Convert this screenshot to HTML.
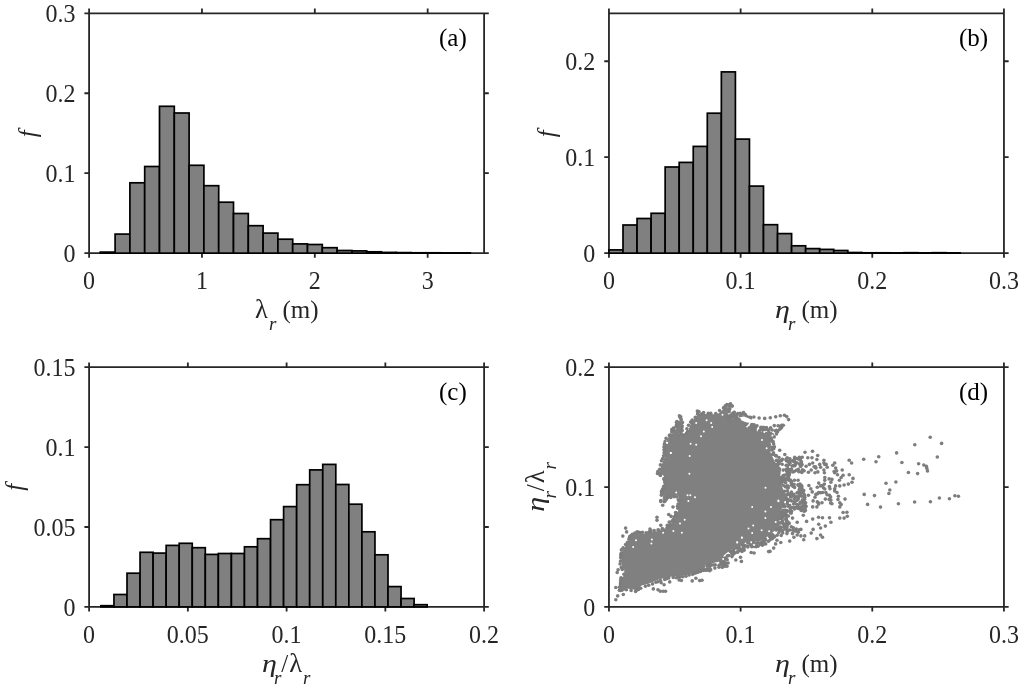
<!DOCTYPE html>
<html><head><meta charset="utf-8"><title>Figure</title>
<style>html,body{margin:0;padding:0;background:#fff;width:1024px;height:688px;overflow:hidden}#fig{width:1024px;height:688px}svg{display:block}</style>
</head><body>
<div id="fig">
<svg width="1024" height="688" viewBox="0 0 1024 688">
<rect x="0" y="0" width="1024" height="688" fill="#fff"/>
<path d="M89.1 13.3H484.1V253.15H89.1ZM89.1 253.15v3.8M89.1 13.3v-3.8M201.96 253.15v3.8M201.96 13.3v-3.8M314.81 253.15v3.8M314.81 13.3v-3.8M427.67 253.15v3.8M427.67 13.3v-3.8M89.1 253.15h-3.8M484.1 253.15h3.8M89.1 173.2h-3.8M484.1 173.2h3.8M89.1 93.25h-3.8M484.1 93.25h3.8M89.1 13.3h-3.8M484.1 13.3h3.8" fill="none" stroke="#262626" stroke-width="1.8" stroke-linecap="square"/>
<path d="M608.95 13.3H1003.95V253.15H608.95ZM608.95 253.15v3.8M608.95 13.3v-3.8M740.62 253.15v3.8M740.62 13.3v-3.8M872.28 253.15v3.8M872.28 13.3v-3.8M1003.95 253.15v3.8M1003.95 13.3v-3.8M608.95 253.15h-3.8M1003.95 253.15h3.8M608.95 157.21h-3.8M1003.95 157.21h3.8M608.95 61.27h-3.8M1003.95 61.27h3.8" fill="none" stroke="#262626" stroke-width="1.8" stroke-linecap="square"/>
<path d="M89.1 367.2H484.1V606.9H89.1ZM89.1 606.9v3.8M89.1 367.2v-3.8M187.85 606.9v3.8M187.85 367.2v-3.8M286.6 606.9v3.8M286.6 367.2v-3.8M385.35 606.9v3.8M385.35 367.2v-3.8M484.1 606.9v3.8M484.1 367.2v-3.8M89.1 606.9h-3.8M484.1 606.9h3.8M89.1 527h-3.8M484.1 527h3.8M89.1 447.1h-3.8M484.1 447.1h3.8M89.1 367.2h-3.8M484.1 367.2h3.8" fill="none" stroke="#262626" stroke-width="1.8" stroke-linecap="square"/>
<path d="M608.95 367.2H1003.95V606.9H608.95ZM608.95 606.9v3.8M608.95 367.2v-3.8M740.62 606.9v3.8M740.62 367.2v-3.8M872.28 606.9v3.8M872.28 367.2v-3.8M1003.95 606.9v3.8M1003.95 367.2v-3.8M608.95 606.9h-3.8M1003.95 606.9h3.8M608.95 487.05h-3.8M1003.95 487.05h3.8M608.95 367.2h-3.8M1003.95 367.2h3.8" fill="none" stroke="#262626" stroke-width="1.8" stroke-linecap="square"/>
<g fill="#808080" stroke="#000" stroke-width="1.7"><rect x="100.3" y="252.1" width="14.8" height="1.05"/><rect x="115.1" y="234.1" width="14.8" height="19.05"/><rect x="129.9" y="182.8" width="14.8" height="70.35"/><rect x="144.7" y="166.5" width="14.8" height="86.65"/><rect x="159.5" y="106.3" width="14.8" height="146.85"/><rect x="174.3" y="113" width="14.8" height="140.15"/><rect x="189.1" y="165.3" width="14.8" height="87.85"/><rect x="203.9" y="185.7" width="14.8" height="67.45"/><rect x="218.7" y="202.2" width="14.8" height="50.95"/><rect x="233.5" y="213.5" width="14.8" height="39.65"/><rect x="248.3" y="225.7" width="14.8" height="27.45"/><rect x="263.1" y="233.1" width="14.8" height="20.05"/><rect x="277.9" y="239.2" width="14.8" height="13.95"/><rect x="292.7" y="243.9" width="14.8" height="9.25"/><rect x="307.5" y="244.5" width="14.8" height="8.65"/><rect x="322.3" y="247.7" width="14.8" height="5.45"/><rect x="337.1" y="250.5" width="14.8" height="2.65"/><rect x="351.9" y="250.9" width="14.8" height="2.25"/><rect x="366.7" y="251.8" width="14.8" height="1.35"/><rect x="381.5" y="252.4" width="14.8" height="0.75"/><rect x="396.3" y="252.6" width="14.8" height="0.55"/><rect x="411.1" y="252.8" width="14.8" height="0.35"/><rect x="425.9" y="252.8" width="14.8" height="0.35"/><rect x="440.7" y="252.9" width="14.8" height="0.25"/><rect x="455.5" y="252.9" width="14.8" height="0.25"/></g>
<g fill="#808080" stroke="#000" stroke-width="1.7"><rect x="608.95" y="249.9" width="14.05" height="3.25"/><rect x="623" y="225" width="14.05" height="28.15"/><rect x="637.05" y="218.5" width="14.05" height="34.65"/><rect x="651.1" y="213.3" width="14.05" height="39.85"/><rect x="665.15" y="167" width="14.05" height="86.15"/><rect x="679.2" y="162.4" width="14.05" height="90.75"/><rect x="693.25" y="146.4" width="14.05" height="106.75"/><rect x="707.3" y="113.2" width="14.05" height="139.95"/><rect x="721.35" y="71.9" width="14.05" height="181.25"/><rect x="735.4" y="139.1" width="14.05" height="114.05"/><rect x="749.45" y="186.1" width="14.05" height="67.05"/><rect x="763.5" y="224.7" width="14.05" height="28.45"/><rect x="777.55" y="233.6" width="14.05" height="19.55"/><rect x="791.6" y="245.8" width="14.05" height="7.35"/><rect x="805.65" y="248.6" width="14.05" height="4.55"/><rect x="819.7" y="249.4" width="14.05" height="3.75"/><rect x="833.75" y="250.5" width="14.05" height="2.65"/><rect x="847.8" y="252.5" width="14.05" height="0.65"/><rect x="861.85" y="252.8" width="14.05" height="0.35"/><rect x="875.9" y="252.8" width="14.05" height="0.35"/><rect x="889.95" y="252.9" width="14.05" height="0.25"/><rect x="904" y="252.7" width="14.05" height="0.45"/><rect x="918.05" y="252.9" width="14.05" height="0.25"/><rect x="932.1" y="252.7" width="14.05" height="0.45"/><rect x="946.15" y="252.9" width="14.05" height="0.25"/></g>
<g fill="#808080" stroke="#000" stroke-width="1.7"><rect x="100.9" y="605.7" width="13.05" height="1.2"/><rect x="113.95" y="594.5" width="13.05" height="12.4"/><rect x="127" y="573.2" width="13.05" height="33.7"/><rect x="140.05" y="552.3" width="13.05" height="54.6"/><rect x="153.1" y="553.1" width="13.05" height="53.8"/><rect x="166.15" y="545.4" width="13.05" height="61.5"/><rect x="179.2" y="543.3" width="13.05" height="63.6"/><rect x="192.25" y="547.7" width="13.05" height="59.2"/><rect x="205.3" y="554.4" width="13.05" height="52.5"/><rect x="218.35" y="553.5" width="13.05" height="53.4"/><rect x="231.4" y="553.5" width="13.05" height="53.4"/><rect x="244.45" y="546.8" width="13.05" height="60.1"/><rect x="257.5" y="538.7" width="13.05" height="68.2"/><rect x="270.55" y="519.7" width="13.05" height="87.2"/><rect x="283.6" y="506.6" width="13.05" height="100.3"/><rect x="296.65" y="484.7" width="13.05" height="122.2"/><rect x="309.7" y="469.9" width="13.05" height="137"/><rect x="322.75" y="464.4" width="13.05" height="142.5"/><rect x="335.8" y="484.5" width="13.05" height="122.4"/><rect x="348.85" y="504.2" width="13.05" height="102.7"/><rect x="361.9" y="531.8" width="13.05" height="75.1"/><rect x="374.95" y="554.8" width="13.05" height="52.1"/><rect x="388" y="586.6" width="13.05" height="20.3"/><rect x="401.05" y="598.5" width="13.05" height="8.4"/><rect x="414.1" y="604.7" width="13.05" height="2.2"/></g>
<path d="M772.2 432L762 432L753.5 430.5L748.5 428.8L746 426.8L744.5 422.8L744.8 419.8L740.5 417.8L731.2 418.5L728 417.8L727.8 406.2L726 406.8L718.8 413.2L716.2 414.2L698.2 413.8L690.5 424.2L687.2 433.8L685.5 435.5L680.5 436.2L679.2 435L679.2 433L681 429.8L680.8 419.5L677.2 422.2L676.5 428.5L675.2 429.8L672.5 430L672.5 433.5L668.5 437L665.8 442L664.5 448L664.5 457L658.5 473.8L662.2 474.5L663.5 475.8L665.2 479.5L665.5 485.2L662 492L663.2 495.2L662.5 500L664.8 499.8L667.8 496.2L677.8 495.8L679 497L678.2 510.5L674.5 520.5L666 530L660.5 529.5L658.5 531L650.8 532L645.5 533.8L636.2 533L629.5 537.8L629.2 540.8L622.5 550.5L621 556.8L622 566.8L624.2 569.5L624.2 575.2L622 578L619.8 589.2L625.5 588.2L635.8 590L638.5 588.8L641.5 585.5L647 584.2L659.5 579.2L670.5 576.8L685.8 575.5L699.8 570.2L704.8 569.2L705 565.2L708.5 565.2L715.5 562.2L722.5 562.2L723.2 556.5L724.2 555L733.2 548L739.5 546.8L746.8 541.8L758.5 541.8L764.8 538.8L775 530.5L779.8 525.2L779.2 514L787.8 496L784.2 491.8L780.5 482.8L780 478.2L781.2 468.2L775 462L770.5 452.5L771 444.8L770.2 438.5Z" fill="#808080" fill-rule="evenodd"/>
<g fill="#7d7d7d"><circle cx="619.4" cy="590.3" r="1.8"/><circle cx="619.4" cy="587.2" r="1.8"/><circle cx="620.5" cy="582.9" r="1.8"/><circle cx="620.6" cy="580.5" r="1.8"/><circle cx="621" cy="577.9" r="1.8"/><circle cx="623.9" cy="574.2" r="1.8"/><circle cx="622.3" cy="569.4" r="1.8"/><circle cx="621.4" cy="567.4" r="1.8"/><circle cx="620.1" cy="563.9" r="1.8"/><circle cx="620.5" cy="561.1" r="1.8"/><circle cx="620.7" cy="557.6" r="1.8"/><circle cx="620.8" cy="554.9" r="1.8"/><circle cx="621.4" cy="553" r="1.8"/><circle cx="621.4" cy="549.7" r="1.8"/><circle cx="623.1" cy="547.7" r="1.8"/><circle cx="625.6" cy="544.6" r="1.8"/><circle cx="627.6" cy="542.2" r="1.8"/><circle cx="629" cy="539.3" r="1.8"/><circle cx="629.8" cy="536.4" r="1.8"/><circle cx="632.3" cy="534.4" r="1.8"/><circle cx="634.9" cy="533.1" r="1.8"/><circle cx="637.1" cy="531.9" r="1.8"/><circle cx="639" cy="532.3" r="1.8"/><circle cx="642.4" cy="532.3" r="1.8"/><circle cx="646.1" cy="532.8" r="1.8"/><circle cx="649.3" cy="531.9" r="1.8"/><circle cx="651" cy="530.7" r="1.8"/><circle cx="654.2" cy="530.6" r="1.8"/><circle cx="658.1" cy="529.8" r="1.8"/><circle cx="662.3" cy="528.6" r="1.8"/><circle cx="666.9" cy="528.1" r="1.8"/><circle cx="668.4" cy="526.2" r="1.8"/><circle cx="670.3" cy="524.3" r="1.8"/><circle cx="672" cy="521.2" r="1.8"/><circle cx="673.6" cy="519.2" r="1.8"/><circle cx="674.3" cy="517.1" r="1.8"/><circle cx="675.6" cy="512.5" r="1.8"/><circle cx="677.8" cy="508.2" r="1.8"/><circle cx="677.6" cy="506.2" r="1.8"/><circle cx="678.1" cy="504" r="1.8"/><circle cx="678.7" cy="500.6" r="1.8"/><circle cx="677.1" cy="497" r="1.8"/><circle cx="674.1" cy="496.6" r="1.8"/><circle cx="670.9" cy="497.5" r="1.8"/><circle cx="667.7" cy="497.8" r="1.8"/><circle cx="664.3" cy="501.6" r="1.8"/><circle cx="660.8" cy="501.4" r="1.8"/><circle cx="660.8" cy="500.6" r="1.8"/><circle cx="661.4" cy="495.2" r="1.8"/><circle cx="661.8" cy="491" r="1.8"/><circle cx="662.6" cy="489.1" r="1.8"/><circle cx="663.6" cy="486.6" r="1.8"/><circle cx="664.8" cy="482.3" r="1.8"/><circle cx="664.1" cy="478.7" r="1.8"/><circle cx="660.4" cy="475.4" r="1.8"/><circle cx="657.5" cy="473.5" r="1.8"/><circle cx="657.8" cy="471.6" r="1.8"/><circle cx="659.7" cy="469.3" r="1.8"/><circle cx="660.4" cy="464.9" r="1.8"/><circle cx="661.5" cy="460.7" r="1.8"/><circle cx="662.7" cy="458.6" r="1.8"/><circle cx="663.6" cy="455.7" r="1.8"/><circle cx="664.2" cy="453" r="1.8"/><circle cx="664.1" cy="449.9" r="1.8"/><circle cx="664.2" cy="447.2" r="1.8"/><circle cx="664.7" cy="444.6" r="1.8"/><circle cx="665.1" cy="441.5" r="1.8"/><circle cx="666.1" cy="438.4" r="1.8"/><circle cx="669.4" cy="435.4" r="1.8"/><circle cx="671.8" cy="431.9" r="1.8"/><circle cx="671.9" cy="429.6" r="1.8"/><circle cx="673.4" cy="428.1" r="1.8"/><circle cx="675.9" cy="427" r="1.8"/><circle cx="676.6" cy="424.5" r="1.8"/><circle cx="677" cy="421.6" r="1.8"/><circle cx="680.1" cy="417.4" r="1.8"/><circle cx="679.4" cy="415.8" r="1.8"/><circle cx="680.7" cy="416.7" r="1.8"/><circle cx="681.2" cy="419.4" r="1.8"/><circle cx="682.4" cy="422.4" r="1.8"/><circle cx="682.2" cy="426.1" r="1.8"/><circle cx="681.8" cy="428" r="1.8"/><circle cx="682.2" cy="430.6" r="1.8"/><circle cx="682.6" cy="434.8" r="1.8"/><circle cx="686.6" cy="433.2" r="1.8"/><circle cx="686.9" cy="428.7" r="1.8"/><circle cx="688.5" cy="425.3" r="1.8"/><circle cx="690.6" cy="422" r="1.8"/><circle cx="692.2" cy="420.1" r="1.8"/><circle cx="695.3" cy="417.4" r="1.8"/><circle cx="697.6" cy="413.9" r="1.8"/><circle cx="697.4" cy="411.1" r="1.8"/><circle cx="699" cy="411.8" r="1.8"/><circle cx="703.6" cy="412.6" r="1.8"/><circle cx="708.3" cy="413.2" r="1.8"/><circle cx="710.8" cy="413.4" r="1.8"/><circle cx="715.8" cy="413.6" r="1.8"/><circle cx="719.6" cy="410.6" r="1.8"/><circle cx="723.5" cy="407.9" r="1.8"/><circle cx="725.3" cy="405.7" r="1.8"/><circle cx="726.9" cy="404.5" r="1.8"/><circle cx="730.5" cy="403.7" r="1.8"/><circle cx="731.4" cy="405.7" r="1.8"/><circle cx="732.3" cy="406.1" r="1.8"/><circle cx="729.8" cy="408.7" r="1.8"/><circle cx="732.8" cy="413.3" r="1.8"/><circle cx="734.2" cy="412.6" r="1.8"/><circle cx="737.7" cy="413.6" r="1.8"/><circle cx="740.2" cy="413.2" r="1.8"/><circle cx="743.5" cy="412.6" r="1.8"/><circle cx="745.2" cy="414.6" r="1.8"/><circle cx="750.4" cy="417.2" r="1.8"/><circle cx="750.8" cy="417.9" r="1.8"/><circle cx="749.3" cy="420.9" r="1.8"/><circle cx="752" cy="424.5" r="1.8"/><circle cx="754.1" cy="424.9" r="1.8"/><circle cx="757" cy="425.8" r="1.8"/><circle cx="760.9" cy="427.2" r="1.8"/><circle cx="763.1" cy="427.4" r="1.8"/><circle cx="766.4" cy="427.5" r="1.8"/><circle cx="770.6" cy="427.7" r="1.8"/><circle cx="774.3" cy="425.6" r="1.8"/><circle cx="778.1" cy="425.8" r="1.8"/><circle cx="781.7" cy="425.3" r="1.8"/><circle cx="783.3" cy="425.3" r="1.8"/><circle cx="781.6" cy="427.6" r="1.8"/><circle cx="779.8" cy="429.2" r="1.8"/><circle cx="777.7" cy="431.6" r="1.8"/><circle cx="776.5" cy="433.9" r="1.8"/><circle cx="774.2" cy="436.9" r="1.8"/><circle cx="773" cy="441.7" r="1.8"/><circle cx="773.6" cy="443.9" r="1.8"/><circle cx="774.4" cy="446.7" r="1.8"/><circle cx="773.7" cy="448.8" r="1.8"/><circle cx="773.5" cy="452.9" r="1.8"/><circle cx="776.4" cy="455.9" r="1.8"/><circle cx="779" cy="457.5" r="1.8"/><circle cx="782.4" cy="459.3" r="1.8"/><circle cx="786" cy="459.4" r="1.8"/><circle cx="789.9" cy="458.8" r="1.8"/><circle cx="794.4" cy="459.6" r="1.8"/><circle cx="797.2" cy="458.6" r="1.8"/><circle cx="800.3" cy="459.1" r="1.8"/><circle cx="801.3" cy="461.9" r="1.8"/><circle cx="802.1" cy="464.6" r="1.8"/><circle cx="802.5" cy="469.9" r="1.8"/><circle cx="804.1" cy="470.7" r="1.8"/><circle cx="801.9" cy="472.4" r="1.8"/><circle cx="798.8" cy="471.8" r="1.8"/><circle cx="794.3" cy="471.5" r="1.8"/><circle cx="792.8" cy="472" r="1.8"/><circle cx="789.1" cy="475.3" r="1.8"/><circle cx="790.4" cy="480" r="1.8"/><circle cx="791.4" cy="481.4" r="1.8"/><circle cx="793.9" cy="484.3" r="1.8"/><circle cx="797.9" cy="484.7" r="1.8"/><circle cx="798.6" cy="485.4" r="1.8"/><circle cx="801.3" cy="488.3" r="1.8"/><circle cx="802.9" cy="490.1" r="1.8"/><circle cx="804.4" cy="494.7" r="1.8"/><circle cx="804.8" cy="497.3" r="1.8"/><circle cx="804.5" cy="499.3" r="1.8"/><circle cx="804.9" cy="503.9" r="1.8"/><circle cx="806.1" cy="506.2" r="1.8"/><circle cx="805.4" cy="510.6" r="1.8"/><circle cx="804.1" cy="511.2" r="1.8"/><circle cx="801.2" cy="510.5" r="1.8"/><circle cx="798.3" cy="508.4" r="1.8"/><circle cx="794.4" cy="509" r="1.8"/><circle cx="791.5" cy="511.4" r="1.8"/><circle cx="791" cy="513.2" r="1.8"/><circle cx="788.4" cy="516" r="1.8"/><circle cx="786.3" cy="518.8" r="1.8"/><circle cx="788" cy="522" r="1.8"/><circle cx="789.2" cy="523.4" r="1.8"/><circle cx="791.3" cy="526.8" r="1.8"/><circle cx="793.3" cy="527.7" r="1.8"/><circle cx="796.3" cy="529.1" r="1.8"/><circle cx="799.3" cy="529.8" r="1.8"/><circle cx="798.3" cy="532.3" r="1.8"/><circle cx="796.1" cy="530.9" r="1.8"/><circle cx="792.8" cy="530.3" r="1.8"/><circle cx="789.7" cy="530" r="1.8"/><circle cx="787.3" cy="531.4" r="1.8"/><circle cx="782.7" cy="532.9" r="1.8"/><circle cx="777.1" cy="535.3" r="1.8"/><circle cx="773.6" cy="537.2" r="1.8"/><circle cx="770.3" cy="539.5" r="1.8"/><circle cx="768.5" cy="541.3" r="1.8"/><circle cx="765.7" cy="543.9" r="1.8"/><circle cx="762.4" cy="545.2" r="1.8"/><circle cx="758" cy="546.2" r="1.8"/><circle cx="754.5" cy="546.5" r="1.8"/><circle cx="751.8" cy="546.8" r="1.8"/><circle cx="747.9" cy="546.9" r="1.8"/><circle cx="744.1" cy="550.2" r="1.8"/><circle cx="742" cy="551.5" r="1.8"/><circle cx="737.9" cy="552.1" r="1.8"/><circle cx="734.9" cy="553" r="1.8"/><circle cx="733.2" cy="554.3" r="1.8"/><circle cx="732" cy="556.6" r="1.8"/><circle cx="727.2" cy="559.7" r="1.8"/><circle cx="728.1" cy="563" r="1.8"/><circle cx="727" cy="566.2" r="1.8"/><circle cx="725" cy="566.3" r="1.8"/><circle cx="722.4" cy="567.3" r="1.8"/><circle cx="719" cy="567.2" r="1.8"/><circle cx="714.9" cy="568.1" r="1.8"/><circle cx="710.7" cy="569.7" r="1.8"/><circle cx="709.6" cy="570.7" r="1.8"/><circle cx="706.7" cy="570" r="1.8"/><circle cx="704" cy="570.1" r="1.8"/><circle cx="700.4" cy="571.4" r="1.8"/><circle cx="698" cy="572.2" r="1.8"/><circle cx="695.4" cy="572.9" r="1.8"/><circle cx="692.5" cy="574.2" r="1.8"/><circle cx="689.2" cy="575" r="1.8"/><circle cx="686" cy="576.3" r="1.8"/><circle cx="682.7" cy="576.8" r="1.8"/><circle cx="679.6" cy="577.1" r="1.8"/><circle cx="676.4" cy="577.7" r="1.8"/><circle cx="673.3" cy="577.4" r="1.8"/><circle cx="668.7" cy="577.9" r="1.8"/><circle cx="666.4" cy="578.8" r="1.8"/><circle cx="664.7" cy="579.4" r="1.8"/><circle cx="660.4" cy="580.6" r="1.8"/><circle cx="657.9" cy="581.7" r="1.8"/><circle cx="655.9" cy="582.2" r="1.8"/><circle cx="652.5" cy="583.9" r="1.8"/><circle cx="648.7" cy="585.3" r="1.8"/><circle cx="645.4" cy="586.3" r="1.8"/><circle cx="640.7" cy="588.3" r="1.8"/><circle cx="638.4" cy="589.5" r="1.8"/><circle cx="635.6" cy="591.4" r="1.8"/><circle cx="631.1" cy="590.5" r="1.8"/><circle cx="626.4" cy="589.7" r="1.8"/><circle cx="621.9" cy="590.2" r="1.8"/><circle cx="620.2" cy="590.4" r="1.8"/><circle cx="788.3" cy="494.5" r="1.8"/><circle cx="801.1" cy="461.6" r="1.8"/><circle cx="781.1" cy="460.6" r="1.8"/><circle cx="769.6" cy="536.4" r="1.8"/><circle cx="789.9" cy="463.2" r="1.8"/><circle cx="665.8" cy="499.8" r="1.8"/><circle cx="790.6" cy="496.9" r="1.8"/><circle cx="787.8" cy="473" r="1.8"/><circle cx="782.2" cy="464.3" r="1.8"/><circle cx="743.5" cy="547.6" r="1.8"/><circle cx="672.2" cy="429.9" r="1.8"/><circle cx="744.1" cy="547.8" r="1.8"/><circle cx="732.6" cy="416.8" r="1.8"/><circle cx="780" cy="528" r="1.8"/><circle cx="673.5" cy="429.5" r="1.8"/><circle cx="789" cy="480.3" r="1.8"/><circle cx="796.6" cy="504.3" r="1.8"/><circle cx="790.7" cy="512.3" r="1.8"/><circle cx="747.2" cy="423.1" r="1.8"/><circle cx="699.8" cy="570.6" r="1.8"/><circle cx="787.4" cy="524.8" r="1.8"/><circle cx="746.8" cy="417.9" r="1.8"/><circle cx="783" cy="513" r="1.8"/><circle cx="746.3" cy="416.5" r="1.8"/><circle cx="735.9" cy="548" r="1.8"/><circle cx="648.9" cy="532.5" r="1.8"/><circle cx="737.5" cy="548" r="1.8"/><circle cx="785.8" cy="519.6" r="1.8"/><circle cx="665.1" cy="501" r="1.8"/><circle cx="786.2" cy="465.2" r="1.8"/><circle cx="804.5" cy="505.5" r="1.8"/><circle cx="790.6" cy="510.9" r="1.8"/><circle cx="680.6" cy="432.6" r="1.8"/><circle cx="791.2" cy="482.9" r="1.8"/><circle cx="786.3" cy="460.8" r="1.8"/><circle cx="793.6" cy="494.7" r="1.8"/><circle cx="785.7" cy="514.9" r="1.8"/><circle cx="728.8" cy="555.6" r="1.8"/><circle cx="787.6" cy="466.2" r="1.8"/><circle cx="758.4" cy="542.8" r="1.8"/><circle cx="786.1" cy="469.2" r="1.8"/><circle cx="631.1" cy="536.1" r="1.8"/><circle cx="796.3" cy="470.2" r="1.8"/><circle cx="748.9" cy="417.2" r="1.8"/><circle cx="745.5" cy="423.8" r="1.8"/><circle cx="786.7" cy="521.7" r="1.8"/><circle cx="780" cy="518.5" r="1.8"/><circle cx="749.2" cy="427.8" r="1.8"/><circle cx="715.2" cy="564.9" r="1.8"/><circle cx="709.5" cy="565.8" r="1.8"/><circle cx="729.4" cy="406.3" r="1.8"/><circle cx="782" cy="518.7" r="1.8"/><circle cx="793.6" cy="494.4" r="1.8"/><circle cx="632.4" cy="535.1" r="1.8"/><circle cx="678.4" cy="576.8" r="1.8"/><circle cx="785.3" cy="513.4" r="1.8"/><circle cx="636.8" cy="589.9" r="1.8"/><circle cx="771.3" cy="535.5" r="1.8"/><circle cx="730.8" cy="415.4" r="1.8"/><circle cx="753.7" cy="545.7" r="1.8"/><circle cx="727.5" cy="555.7" r="1.8"/><circle cx="787.1" cy="529.5" r="1.8"/><circle cx="798.9" cy="459.1" r="1.8"/><circle cx="740.5" cy="415.9" r="1.8"/><circle cx="800.8" cy="465.4" r="1.8"/><circle cx="800.6" cy="493.7" r="1.8"/><circle cx="742.8" cy="414.2" r="1.8"/><circle cx="776.2" cy="529.9" r="1.8"/><circle cx="753.9" cy="429.2" r="1.8"/><circle cx="681.3" cy="430.8" r="1.8"/><circle cx="665.3" cy="484.5" r="1.8"/><circle cx="785.9" cy="514.2" r="1.8"/><circle cx="786.8" cy="471.1" r="1.8"/><circle cx="772.3" cy="534.6" r="1.8"/><circle cx="783" cy="516.5" r="1.8"/><circle cx="766.8" cy="429.5" r="1.8"/><circle cx="803.1" cy="492.6" r="1.8"/><circle cx="798.3" cy="469.4" r="1.8"/><circle cx="745.2" cy="417" r="1.8"/><circle cx="770.7" cy="535.5" r="1.8"/><circle cx="753.2" cy="427.7" r="1.8"/><circle cx="772.3" cy="434.6" r="1.8"/><circle cx="789.1" cy="500.3" r="1.8"/><circle cx="755.1" cy="430.1" r="1.8"/><circle cx="793.3" cy="465.6" r="1.8"/><circle cx="784" cy="475.3" r="1.8"/><circle cx="761.1" cy="428.6" r="1.8"/><circle cx="739.7" cy="549" r="1.8"/><circle cx="787.2" cy="478.8" r="1.8"/><circle cx="784.5" cy="515.3" r="1.8"/><circle cx="781" cy="516.6" r="1.8"/><circle cx="789.6" cy="505" r="1.8"/><circle cx="781.9" cy="481.4" r="1.8"/><circle cx="771.3" cy="439.2" r="1.8"/><circle cx="804.4" cy="501.7" r="1.8"/><circle cx="698" cy="412.1" r="1.8"/><circle cx="802.4" cy="501.7" r="1.8"/><circle cx="797.1" cy="500.3" r="1.8"/><circle cx="663" cy="489.5" r="1.8"/><circle cx="787.7" cy="502.1" r="1.8"/><circle cx="779.9" cy="527.4" r="1.8"/><circle cx="746.5" cy="416.7" r="1.8"/><circle cx="674.1" cy="496.5" r="1.8"/><circle cx="780.8" cy="514.4" r="1.8"/><circle cx="676.2" cy="513.1" r="1.8"/><circle cx="720.1" cy="564.2" r="1.8"/><circle cx="793" cy="486.4" r="1.8"/><circle cx="771.9" cy="435.2" r="1.8"/><circle cx="762" cy="429.1" r="1.8"/><circle cx="783.2" cy="470.1" r="1.8"/><circle cx="778.5" cy="460.8" r="1.8"/><circle cx="750.3" cy="542.3" r="1.8"/><circle cx="737" cy="417.6" r="1.8"/><circle cx="789.2" cy="466.7" r="1.8"/><circle cx="775.4" cy="430.9" r="1.8"/><circle cx="788.3" cy="486.4" r="1.8"/><circle cx="799.4" cy="464.1" r="1.8"/><circle cx="664.8" cy="530" r="1.8"/><circle cx="629.4" cy="537.9" r="1.8"/><circle cx="763.4" cy="431.6" r="1.8"/><circle cx="790.3" cy="508.4" r="1.8"/><circle cx="765.2" cy="429.1" r="1.8"/><circle cx="621.3" cy="578.6" r="1.8"/><circle cx="782.4" cy="520.9" r="1.8"/><circle cx="787.4" cy="503.8" r="1.8"/><circle cx="676" cy="515.6" r="1.8"/><circle cx="670.6" cy="525.1" r="1.8"/><circle cx="787.1" cy="479.4" r="1.8"/><circle cx="621.5" cy="555.7" r="1.8"/><circle cx="756.4" cy="543.3" r="1.8"/><circle cx="747.5" cy="421" r="1.8"/><circle cx="780.2" cy="530.8" r="1.8"/><circle cx="789.9" cy="511.7" r="1.8"/><circle cx="745.8" cy="424.8" r="1.8"/><circle cx="747.5" cy="546" r="1.8"/><circle cx="787.1" cy="510.9" r="1.8"/><circle cx="719.7" cy="564.1" r="1.8"/><circle cx="777.7" cy="464.3" r="1.8"/><circle cx="793" cy="495.3" r="1.8"/><circle cx="782.2" cy="514.8" r="1.8"/><circle cx="786.7" cy="471.1" r="1.8"/><circle cx="787.5" cy="470.8" r="1.8"/><circle cx="796.9" cy="493" r="1.8"/><circle cx="730.6" cy="551.7" r="1.8"/><circle cx="707.3" cy="569" r="1.8"/><circle cx="781.3" cy="512.4" r="1.8"/><circle cx="722.1" cy="562.6" r="1.8"/><circle cx="786.9" cy="487.2" r="1.8"/><circle cx="675.3" cy="516.3" r="1.8"/><circle cx="780.4" cy="478.5" r="1.8"/><circle cx="747.9" cy="420.6" r="1.8"/><circle cx="742.6" cy="417.7" r="1.8"/><circle cx="664" cy="478.9" r="1.8"/><circle cx="730.2" cy="551.3" r="1.8"/><circle cx="798" cy="499.2" r="1.8"/><circle cx="661.5" cy="491.4" r="1.8"/><circle cx="783.2" cy="475.7" r="1.8"/><circle cx="771.2" cy="438.2" r="1.8"/><circle cx="740.3" cy="550.1" r="1.8"/><circle cx="667.9" cy="497.2" r="1.8"/><circle cx="786.1" cy="517.8" r="1.8"/><circle cx="801.4" cy="471.8" r="1.8"/><circle cx="780.5" cy="522.9" r="1.8"/><circle cx="725.1" cy="563.8" r="1.8"/><circle cx="786.1" cy="528.2" r="1.8"/><circle cx="791.3" cy="500.9" r="1.8"/><circle cx="728" cy="404.9" r="1.8"/><circle cx="664.4" cy="449.8" r="1.8"/><circle cx="765.3" cy="539.9" r="1.8"/><circle cx="729.3" cy="409.6" r="1.8"/><circle cx="788" cy="506.3" r="1.8"/><circle cx="745.7" cy="415.3" r="1.8"/><circle cx="802.6" cy="506.2" r="1.8"/><circle cx="666.1" cy="499.3" r="1.8"/><circle cx="701.5" cy="414" r="1.8"/><circle cx="794.2" cy="498.8" r="1.8"/><circle cx="800.6" cy="508.4" r="1.8"/><circle cx="793.2" cy="461.3" r="1.8"/><circle cx="793.7" cy="485.1" r="1.8"/><circle cx="799.1" cy="507.7" r="1.8"/><circle cx="763" cy="542.2" r="1.8"/><circle cx="661.6" cy="493.5" r="1.8"/><circle cx="781" cy="483.3" r="1.8"/><circle cx="782.7" cy="479.5" r="1.8"/><circle cx="756.1" cy="426.6" r="1.8"/><circle cx="776.4" cy="460.4" r="1.8"/><circle cx="781.7" cy="518.6" r="1.8"/><circle cx="732.4" cy="551.1" r="1.8"/><circle cx="746" cy="422.4" r="1.8"/><circle cx="779.5" cy="528.3" r="1.8"/><circle cx="726.1" cy="563.5" r="1.8"/><circle cx="771.9" cy="450" r="1.8"/><circle cx="783.6" cy="514.8" r="1.8"/><circle cx="784.6" cy="481.7" r="1.8"/><circle cx="780" cy="426.3" r="1.8"/><circle cx="781.5" cy="460.4" r="1.8"/><circle cx="781.1" cy="515.4" r="1.8"/><circle cx="730" cy="418.2" r="1.8"/><circle cx="743.3" cy="544.9" r="1.8"/><circle cx="799.9" cy="487.7" r="1.8"/><circle cx="733.8" cy="416.9" r="1.8"/><circle cx="752.9" cy="542.6" r="1.8"/><circle cx="793.7" cy="504" r="1.8"/><circle cx="793.2" cy="465.7" r="1.8"/><circle cx="723.8" cy="562.6" r="1.8"/><circle cx="763.9" cy="541" r="1.8"/><circle cx="624" cy="589" r="1.8"/><circle cx="785.4" cy="510.4" r="1.8"/><circle cx="780.3" cy="528.7" r="1.8"/><circle cx="801.6" cy="492.8" r="1.8"/><circle cx="707" cy="566.3" r="1.8"/><circle cx="791.5" cy="469.2" r="1.8"/><circle cx="741.9" cy="417.5" r="1.8"/><circle cx="778.6" cy="464.1" r="1.8"/><circle cx="728.4" cy="417.2" r="1.8"/><circle cx="803.1" cy="503.5" r="1.8"/><circle cx="788.1" cy="465" r="1.8"/><circle cx="742.6" cy="549" r="1.8"/><circle cx="728.8" cy="409.2" r="1.8"/><circle cx="732.9" cy="414.3" r="1.8"/><circle cx="787.3" cy="500" r="1.8"/><circle cx="801.1" cy="507.4" r="1.8"/><circle cx="786.9" cy="486.5" r="1.8"/><circle cx="763.5" cy="543.9" r="1.8"/><circle cx="660.3" cy="474.7" r="1.8"/><circle cx="788.5" cy="477.8" r="1.8"/><circle cx="791.4" cy="466.3" r="1.8"/><circle cx="785.1" cy="480.3" r="1.8"/><circle cx="785.7" cy="524.1" r="1.8"/><circle cx="751.5" cy="428.6" r="1.8"/><circle cx="620.5" cy="585.1" r="1.8"/><circle cx="789.6" cy="470.9" r="1.8"/><circle cx="753.3" cy="430.1" r="1.8"/><circle cx="728.6" cy="416" r="1.8"/><circle cx="737.3" cy="414.5" r="1.8"/><circle cx="801.5" cy="492.1" r="1.8"/><circle cx="794.9" cy="501.5" r="1.8"/><circle cx="784.3" cy="478" r="1.8"/><circle cx="787.1" cy="485.8" r="1.8"/><circle cx="777.2" cy="528.9" r="1.8"/><circle cx="739.7" cy="550.2" r="1.8"/><circle cx="750.3" cy="544.5" r="1.8"/><circle cx="733.4" cy="551.3" r="1.8"/><circle cx="773.5" cy="535.7" r="1.8"/><circle cx="706.3" cy="570" r="1.8"/><circle cx="781.6" cy="477.3" r="1.8"/><circle cx="789.5" cy="473.4" r="1.8"/><circle cx="640.2" cy="532.8" r="1.8"/><circle cx="757.3" cy="545.7" r="1.8"/><circle cx="762.4" cy="543.3" r="1.8"/><circle cx="780.5" cy="527" r="1.8"/><circle cx="729.1" cy="411.7" r="1.8"/><circle cx="786.4" cy="498.9" r="1.8"/><circle cx="779.2" cy="462.9" r="1.8"/><circle cx="670.3" cy="435.1" r="1.8"/><circle cx="789.8" cy="470.4" r="1.8"/><circle cx="781.9" cy="515.7" r="1.8"/><circle cx="801.7" cy="509.5" r="1.8"/><circle cx="794.1" cy="502" r="1.8"/><circle cx="735.6" cy="418" r="1.8"/><circle cx="685.5" cy="434.7" r="1.8"/><circle cx="778.6" cy="529.6" r="1.8"/><circle cx="789.5" cy="494.3" r="1.8"/><circle cx="800.6" cy="466.4" r="1.8"/><circle cx="693.7" cy="573.6" r="1.8"/><circle cx="706.9" cy="569.8" r="1.8"/><circle cx="742.9" cy="418.3" r="1.8"/><circle cx="763.5" cy="429.9" r="1.8"/><circle cx="641.2" cy="533.2" r="1.8"/><circle cx="701.2" cy="570.6" r="1.8"/><circle cx="760.3" cy="544.5" r="1.8"/><circle cx="726.2" cy="558.9" r="1.8"/><circle cx="772.9" cy="454.2" r="1.8"/><circle cx="708" cy="565.6" r="1.8"/><circle cx="762.8" cy="429.7" r="1.8"/><circle cx="709.7" cy="568.3" r="1.8"/><circle cx="664.5" cy="443.8" r="1.8"/><circle cx="763" cy="541.4" r="1.8"/><circle cx="787.5" cy="494.2" r="1.8"/><circle cx="800.3" cy="508.8" r="1.8"/><circle cx="798.5" cy="497.5" r="1.8"/><circle cx="791.5" cy="496.6" r="1.8"/><circle cx="794.8" cy="465.8" r="1.8"/><circle cx="700.1" cy="570.8" r="1.8"/><circle cx="802.6" cy="470.8" r="1.8"/><circle cx="787.5" cy="499.4" r="1.8"/><circle cx="691.6" cy="422.4" r="1.8"/><circle cx="771.6" cy="538.1" r="1.8"/><circle cx="788.2" cy="461.6" r="1.8"/><circle cx="784.5" cy="525.3" r="1.8"/><circle cx="799.7" cy="507.6" r="1.8"/><circle cx="803.9" cy="496.3" r="1.8"/><circle cx="687.7" cy="431.6" r="1.8"/><circle cx="696.6" cy="572.5" r="1.8"/><circle cx="772.8" cy="441.6" r="1.8"/><circle cx="788.2" cy="488" r="1.8"/><circle cx="770.2" cy="535.4" r="1.8"/><circle cx="787.1" cy="511.1" r="1.8"/><circle cx="796.9" cy="462.8" r="1.8"/><circle cx="788.2" cy="475.4" r="1.8"/><circle cx="781" cy="480.3" r="1.8"/><circle cx="755" cy="427.2" r="1.8"/><circle cx="790.2" cy="461.2" r="1.8"/><circle cx="658.6" cy="530.3" r="1.8"/><circle cx="795.5" cy="497.3" r="1.8"/><circle cx="805.2" cy="508" r="1.8"/><circle cx="747.8" cy="542.8" r="1.8"/><circle cx="788.4" cy="469.1" r="1.8"/><circle cx="723.5" cy="558.4" r="1.8"/><circle cx="790.1" cy="460.2" r="1.8"/><circle cx="768.8" cy="429.8" r="1.8"/><circle cx="788.9" cy="467.6" r="1.8"/><circle cx="793.5" cy="507.6" r="1.8"/><circle cx="787" cy="527" r="1.8"/><circle cx="800.3" cy="490.3" r="1.8"/><circle cx="793.6" cy="460.4" r="1.8"/><circle cx="784" cy="479.7" r="1.8"/><circle cx="772.8" cy="448.5" r="1.8"/><circle cx="783.2" cy="514.3" r="1.8"/><circle cx="785.7" cy="482.7" r="1.8"/><circle cx="778.8" cy="532.7" r="1.8"/><circle cx="739.1" cy="547.2" r="1.8"/><circle cx="676.5" cy="422.3" r="1.8"/><circle cx="786" cy="529" r="1.8"/><circle cx="751.7" cy="425.3" r="1.8"/><circle cx="786.4" cy="499" r="1.8"/><circle cx="788.9" cy="465.1" r="1.8"/><circle cx="783.2" cy="485.2" r="1.8"/><circle cx="706" cy="570.1" r="1.8"/><circle cx="787.9" cy="476.2" r="1.8"/><circle cx="775.4" cy="455.6" r="1.8"/><circle cx="638.3" cy="589.1" r="1.8"/><circle cx="673.2" cy="429.4" r="1.8"/><circle cx="709.9" cy="564.9" r="1.8"/><circle cx="660" cy="474.3" r="1.8"/><circle cx="795.4" cy="464.5" r="1.8"/><circle cx="787.5" cy="502.2" r="1.8"/><circle cx="731.9" cy="553.8" r="1.8"/><circle cx="768.8" cy="431.9" r="1.8"/><circle cx="785.9" cy="474.7" r="1.8"/><circle cx="676.6" cy="425.6" r="1.8"/><circle cx="776.4" cy="430.2" r="1.8"/><circle cx="713.3" cy="565" r="1.8"/><circle cx="772.2" cy="430" r="1.8"/><circle cx="662.1" cy="491.8" r="1.8"/><circle cx="751.2" cy="545.6" r="1.8"/><circle cx="703.2" cy="570.4" r="1.8"/><circle cx="786.8" cy="515.8" r="1.8"/><circle cx="745.3" cy="545.8" r="1.8"/><circle cx="733" cy="414.1" r="1.8"/><circle cx="778.2" cy="463.2" r="1.8"/><circle cx="679.5" cy="577" r="1.8"/><circle cx="799.3" cy="489.5" r="1.8"/><circle cx="803" cy="500.2" r="1.8"/><circle cx="710.5" cy="565.5" r="1.8"/><circle cx="724.2" cy="407.8" r="1.8"/><circle cx="782.8" cy="510.4" r="1.8"/><circle cx="791" cy="494.1" r="1.8"/><circle cx="794.6" cy="487.4" r="1.8"/><circle cx="764.1" cy="427.8" r="1.8"/><circle cx="736.9" cy="552" r="1.8"/><circle cx="771.7" cy="440.8" r="1.8"/><circle cx="794" cy="461" r="1.8"/><circle cx="796.4" cy="507.6" r="1.8"/><circle cx="763.6" cy="431.8" r="1.8"/><circle cx="719.9" cy="563" r="1.8"/><circle cx="800.4" cy="495.5" r="1.8"/><circle cx="771.9" cy="447.3" r="1.8"/><circle cx="801.7" cy="491.9" r="1.8"/><circle cx="783.6" cy="527.2" r="1.8"/><circle cx="664.4" cy="479.9" r="1.8"/><circle cx="719.1" cy="565.3" r="1.8"/><circle cx="785.3" cy="486.7" r="1.8"/><circle cx="794.9" cy="530.9" r="1.8"/><circle cx="765.4" cy="539.3" r="1.8"/><circle cx="784.5" cy="491.3" r="1.8"/><circle cx="673.4" cy="521.7" r="1.8"/><circle cx="798.7" cy="492.9" r="1.8"/><circle cx="723.2" cy="565.4" r="1.8"/><circle cx="725.8" cy="557.8" r="1.8"/><circle cx="783.3" cy="523.9" r="1.8"/><circle cx="798" cy="492.3" r="1.8"/><circle cx="733.4" cy="549.4" r="1.8"/><circle cx="724.8" cy="562.2" r="1.8"/><circle cx="804.4" cy="508.9" r="1.8"/><circle cx="755" cy="428.5" r="1.8"/><circle cx="789.9" cy="500.4" r="1.8"/><circle cx="720.4" cy="562.5" r="1.8"/><circle cx="791.4" cy="492" r="1.8"/><circle cx="791.4" cy="507.5" r="1.8"/><circle cx="796" cy="496.8" r="1.8"/><circle cx="680.3" cy="435.3" r="1.8"/><circle cx="678.4" cy="499.8" r="1.8"/><circle cx="786" cy="526.8" r="1.8"/><circle cx="756" cy="546.6" r="1.8"/><circle cx="664.4" cy="446.5" r="1.8"/><circle cx="787.4" cy="490.9" r="1.8"/><circle cx="781" cy="480.8" r="1.8"/><circle cx="686.9" cy="433.3" r="1.8"/><circle cx="751.4" cy="425.4" r="1.8"/><circle cx="797.8" cy="505.1" r="1.8"/><circle cx="804" cy="501.9" r="1.8"/><circle cx="799.8" cy="494.9" r="1.8"/><circle cx="800.3" cy="502.2" r="1.8"/><circle cx="780.8" cy="514" r="1.8"/><circle cx="621.4" cy="553.4" r="1.8"/><circle cx="799.3" cy="492.6" r="1.8"/><circle cx="782.6" cy="530.6" r="1.8"/><circle cx="664.5" cy="445.1" r="1.8"/><circle cx="794.9" cy="507.8" r="1.8"/><circle cx="786.4" cy="519.8" r="1.8"/><circle cx="756.6" cy="546.4" r="1.8"/><circle cx="732.4" cy="553" r="1.8"/><circle cx="759.5" cy="430.8" r="1.8"/><circle cx="797.8" cy="496.8" r="1.8"/><circle cx="730.8" cy="417.8" r="1.8"/><circle cx="800" cy="504" r="1.8"/><circle cx="723.9" cy="559.4" r="1.8"/><circle cx="731.6" cy="414.9" r="1.8"/><circle cx="621" cy="589.6" r="1.8"/><circle cx="785.9" cy="524.9" r="1.8"/><circle cx="788.9" cy="468.5" r="1.8"/><circle cx="722.2" cy="567" r="1.8"/><circle cx="681.3" cy="423.5" r="1.8"/><circle cx="791.5" cy="485" r="1.8"/><circle cx="782.6" cy="522.3" r="1.8"/><circle cx="735.1" cy="415.2" r="1.8"/><circle cx="664.5" cy="452.5" r="1.8"/><circle cx="784.1" cy="504.1" r="1.8"/><circle cx="774.6" cy="536.8" r="1.8"/><circle cx="675.5" cy="515.5" r="1.8"/><circle cx="753.3" cy="542.2" r="1.8"/><circle cx="784.7" cy="506.5" r="1.8"/><circle cx="739.3" cy="549.2" r="1.8"/><circle cx="773" cy="454.3" r="1.8"/><circle cx="794.9" cy="462.3" r="1.8"/><circle cx="668.4" cy="496.6" r="1.8"/><circle cx="722" cy="563.1" r="1.8"/><circle cx="761.6" cy="542.3" r="1.8"/><circle cx="742.4" cy="545.1" r="1.8"/><circle cx="788.5" cy="493.8" r="1.8"/><circle cx="785" cy="529" r="1.8"/><circle cx="783.3" cy="506.3" r="1.8"/><circle cx="754.2" cy="427.1" r="1.8"/></g>
<path d="M739.8 417.2L744.1 416.6L749 418.5L752.3 420.6L751.8 423L746.9 422.4L741.6 420.6Z" fill="#fff"/>
<g fill="#fff"><circle cx="706.6" cy="420.3" r="1.0"/><circle cx="711.2" cy="423.1" r="1.0"/><circle cx="712.2" cy="426.9" r="1.0"/><circle cx="722.5" cy="414.7" r="1.0"/><circle cx="696.2" cy="423.1" r="1.0"/><circle cx="703.8" cy="431.6" r="1.0"/><circle cx="667.2" cy="442.8" r="1.0"/><circle cx="671" cy="453.1" r="1.0"/><circle cx="690.6" cy="443.8" r="1.0"/><circle cx="696.2" cy="444.7" r="1.0"/><circle cx="701" cy="436.2" r="1.0"/><circle cx="689.7" cy="455.9" r="1.0"/><circle cx="689.4" cy="473.8" r="1.0"/><circle cx="670.6" cy="453.1" r="1.0"/><circle cx="666.9" cy="442.8" r="1.0"/><circle cx="676.2" cy="492.5" r="1.0"/><circle cx="687.5" cy="495.3" r="1.0"/><circle cx="690.3" cy="495.3" r="1.0"/><circle cx="695" cy="497.2" r="1.0"/><circle cx="688.4" cy="501" r="1.0"/><circle cx="636" cy="540.3" r="1.0"/><circle cx="651.9" cy="539.4" r="1.0"/><circle cx="651.4" cy="543.6" r="1.0"/><circle cx="663.1" cy="532.8" r="1.0"/><circle cx="673.4" cy="530.9" r="1.0"/><circle cx="681.9" cy="532.8" r="1.0"/><circle cx="684.7" cy="519.7" r="1.0"/><circle cx="680" cy="523.4" r="1.0"/><circle cx="633.1" cy="546.9" r="1.0"/><circle cx="737.2" cy="542.2" r="1.0"/><circle cx="741.9" cy="537.5" r="1.0"/><circle cx="751.2" cy="542.2" r="1.0"/><circle cx="754" cy="545" r="1.0"/><circle cx="718.4" cy="562.8" r="1.0"/><circle cx="723.1" cy="559.1" r="1.0"/><circle cx="752.2" cy="506.9" r="1.0"/><circle cx="765.4" cy="511.6" r="1.0"/><circle cx="765.4" cy="518.1" r="1.0"/><circle cx="771" cy="506.9" r="1.0"/><circle cx="775.7" cy="521.9" r="1.0"/><circle cx="753.2" cy="525.6" r="1.0"/><circle cx="748.5" cy="528.4" r="1.0"/><circle cx="752.2" cy="533.1" r="1.0"/><circle cx="761.6" cy="530.3" r="1.0"/><circle cx="769.1" cy="531.2" r="1.0"/><circle cx="741.9" cy="537.8" r="1.0"/><circle cx="737.2" cy="542.5" r="1.0"/><circle cx="778.5" cy="501.2" r="1.0"/><circle cx="785" cy="502.2" r="1.0"/><circle cx="789.8" cy="503.1" r="1.0"/><circle cx="766.6" cy="448.3" r="1.0"/><circle cx="764.3" cy="432" r="1.0"/><circle cx="772.4" cy="435.5" r="1.0"/><circle cx="762" cy="440.1" r="1.0"/><circle cx="765.5" cy="487.8" r="1.0"/><circle cx="789.9" cy="466.9" r="1.0"/><circle cx="784.1" cy="462.2" r="1.0"/><circle cx="778.3" cy="500.6" r="1.0"/></g>
<g fill="#7d7d7d"><circle cx="734.2" cy="412.3" r="1.8"/><circle cx="753.9" cy="417" r="1.8"/><circle cx="759.1" cy="418" r="1.8"/><circle cx="764.7" cy="418.4" r="1.8"/><circle cx="770.3" cy="417.8" r="1.8"/><circle cx="775.7" cy="416.8" r="1.8"/><circle cx="780.3" cy="415.8" r="1.8"/><circle cx="784.4" cy="415.2" r="1.8"/><circle cx="786.7" cy="416.6" r="1.8"/><circle cx="788.6" cy="419.6" r="1.8"/><circle cx="779.7" cy="450.3" r="1.8"/><circle cx="784.8" cy="454.5" r="1.8"/><circle cx="787.2" cy="457.8" r="1.8"/><circle cx="794.7" cy="457.3" r="1.8"/><circle cx="799.4" cy="457.3" r="1.8"/><circle cx="802.2" cy="457.3" r="1.8"/><circle cx="805" cy="452.2" r="1.8"/><circle cx="807.8" cy="457.8" r="1.8"/><circle cx="812.5" cy="451.2" r="1.8"/><circle cx="812" cy="457.8" r="1.8"/><circle cx="817.7" cy="455.5" r="1.8"/><circle cx="816.9" cy="459.5" r="1.8"/><circle cx="823.9" cy="460.2" r="1.8"/><circle cx="823.9" cy="463" r="1.8"/><circle cx="826.2" cy="464.4" r="1.8"/><circle cx="827.2" cy="467.2" r="1.8"/><circle cx="819.7" cy="464.4" r="1.8"/><circle cx="820.6" cy="467.2" r="1.8"/><circle cx="812.7" cy="463" r="1.8"/><circle cx="809.4" cy="464.4" r="1.8"/><circle cx="806.1" cy="466.2" r="1.8"/><circle cx="814.1" cy="466.7" r="1.8"/><circle cx="815.9" cy="468.1" r="1.8"/><circle cx="811.2" cy="470" r="1.8"/><circle cx="808.4" cy="472.3" r="1.8"/><circle cx="815" cy="472.8" r="1.8"/><circle cx="817.8" cy="471.9" r="1.8"/><circle cx="823.9" cy="470" r="1.8"/><circle cx="824.4" cy="472.8" r="1.8"/><circle cx="834.7" cy="463" r="1.8"/><circle cx="832.8" cy="465.3" r="1.8"/><circle cx="835.6" cy="468.1" r="1.8"/><circle cx="836.6" cy="470.9" r="1.8"/><circle cx="834.7" cy="472.8" r="1.8"/><circle cx="837.5" cy="474.7" r="1.8"/><circle cx="842.2" cy="470" r="1.8"/><circle cx="843.1" cy="475.2" r="1.8"/><circle cx="841.2" cy="477.5" r="1.8"/><circle cx="839.4" cy="480.3" r="1.8"/><circle cx="849.2" cy="460.2" r="1.8"/><circle cx="851.6" cy="463" r="1.8"/><circle cx="849.2" cy="474.7" r="1.8"/><circle cx="853" cy="478.4" r="1.8"/><circle cx="852" cy="482.2" r="1.8"/><circle cx="848.3" cy="484.1" r="1.8"/><circle cx="844.1" cy="485" r="1.8"/><circle cx="839.8" cy="485.9" r="1.8"/><circle cx="835.6" cy="485.9" r="1.8"/><circle cx="834.7" cy="488.7" r="1.8"/><circle cx="830" cy="488.7" r="1.8"/><circle cx="830.9" cy="482.2" r="1.8"/><circle cx="829.1" cy="478.9" r="1.8"/><circle cx="831.9" cy="479.4" r="1.8"/><circle cx="824.8" cy="477.5" r="1.8"/><circle cx="824.8" cy="480.3" r="1.8"/><circle cx="824.4" cy="484.1" r="1.8"/><circle cx="818.7" cy="483.1" r="1.8"/><circle cx="820.6" cy="485.9" r="1.8"/><circle cx="817.3" cy="487.3" r="1.8"/><circle cx="823.4" cy="487.8" r="1.8"/><circle cx="825.8" cy="492.5" r="1.8"/><circle cx="822.5" cy="492.5" r="1.8"/><circle cx="818.7" cy="492.5" r="1.8"/><circle cx="815.9" cy="494.4" r="1.8"/><circle cx="815" cy="497.2" r="1.8"/><circle cx="813.1" cy="500.9" r="1.8"/><circle cx="817.3" cy="501.9" r="1.8"/><circle cx="822" cy="502.8" r="1.8"/><circle cx="825.3" cy="499.1" r="1.8"/><circle cx="829.5" cy="495.3" r="1.8"/><circle cx="830.9" cy="500" r="1.8"/><circle cx="831.9" cy="503.7" r="1.8"/><circle cx="837" cy="492.5" r="1.8"/><circle cx="838.4" cy="496.2" r="1.8"/><circle cx="838" cy="499.5" r="1.8"/><circle cx="839.8" cy="502.8" r="1.8"/><circle cx="845" cy="499.1" r="1.8"/><circle cx="863.7" cy="459.2" r="1.8"/><circle cx="864.2" cy="494.4" r="1.8"/><circle cx="808.9" cy="485.5" r="1.8"/><circle cx="810.8" cy="488.7" r="1.8"/><circle cx="808.4" cy="495.3" r="1.8"/><circle cx="794.4" cy="480.3" r="1.8"/><circle cx="798.1" cy="480.3" r="1.8"/><circle cx="800" cy="484.1" r="1.8"/><circle cx="801.9" cy="486.9" r="1.8"/><circle cx="803.7" cy="490.6" r="1.8"/><circle cx="801.9" cy="496.2" r="1.8"/><circle cx="802.3" cy="500" r="1.8"/><circle cx="805.6" cy="502.8" r="1.8"/><circle cx="815.5" cy="466.9" r="1.8"/><circle cx="824.8" cy="464.5" r="1.8"/><circle cx="834.1" cy="471.5" r="1.8"/><circle cx="801.5" cy="485.5" r="1.8"/><circle cx="822.4" cy="485.5" r="1.8"/><circle cx="824.8" cy="489" r="1.8"/><circle cx="829.4" cy="486.6" r="1.8"/><circle cx="817.8" cy="493.6" r="1.8"/><circle cx="827.1" cy="494.8" r="1.8"/><circle cx="830.6" cy="497.1" r="1.8"/><circle cx="818.4" cy="502.9" r="1.8"/><circle cx="830.6" cy="502.9" r="1.8"/><circle cx="812.2" cy="491.9" r="1.8"/><circle cx="820.6" cy="492.8" r="1.8"/><circle cx="834.7" cy="490.9" r="1.8"/><circle cx="829.1" cy="499.4" r="1.8"/><circle cx="812.7" cy="506.9" r="1.8"/><circle cx="816.9" cy="506.9" r="1.8"/><circle cx="818.7" cy="504.1" r="1.8"/><circle cx="841.2" cy="504.5" r="1.8"/><circle cx="839.8" cy="506.9" r="1.8"/><circle cx="843.1" cy="512.5" r="1.8"/><circle cx="846.9" cy="512.2" r="1.8"/><circle cx="847.3" cy="516.2" r="1.8"/><circle cx="844.1" cy="518.1" r="1.8"/><circle cx="839.8" cy="518.1" r="1.8"/><circle cx="829.5" cy="517.7" r="1.8"/><circle cx="830.9" cy="522.3" r="1.8"/><circle cx="822.5" cy="517.7" r="1.8"/><circle cx="818.6" cy="517.2" r="1.8"/><circle cx="812.7" cy="519.1" r="1.8"/><circle cx="806.6" cy="521.4" r="1.8"/><circle cx="803.3" cy="515.3" r="1.8"/><circle cx="797.2" cy="522.3" r="1.8"/><circle cx="792.5" cy="518.1" r="1.8"/><circle cx="818.7" cy="524.2" r="1.8"/><circle cx="825.3" cy="526.1" r="1.8"/><circle cx="820.6" cy="528" r="1.8"/><circle cx="813.1" cy="529.4" r="1.8"/><circle cx="811.2" cy="533.1" r="1.8"/><circle cx="820.6" cy="535" r="1.8"/><circle cx="822.5" cy="537.3" r="1.8"/><circle cx="816.9" cy="538.6" r="1.8"/><circle cx="803.7" cy="539.7" r="1.8"/><circle cx="804.7" cy="535.9" r="1.8"/><circle cx="800.9" cy="535.9" r="1.8"/><circle cx="797.2" cy="535" r="1.8"/><circle cx="793.9" cy="537.3" r="1.8"/><circle cx="792.5" cy="533.6" r="1.8"/><circle cx="789.7" cy="541.1" r="1.8"/><circle cx="786.9" cy="533.6" r="1.8"/><circle cx="781.2" cy="535.5" r="1.8"/><circle cx="780.8" cy="542.5" r="1.8"/><circle cx="777" cy="540.2" r="1.8"/><circle cx="775.6" cy="543.9" r="1.8"/><circle cx="773.7" cy="548.1" r="1.8"/><circle cx="770" cy="551.4" r="1.8"/><circle cx="772.3" cy="538.7" r="1.8"/><circle cx="800.9" cy="529.4" r="1.8"/><circle cx="699.7" cy="580.6" r="1.8"/><circle cx="702" cy="580.2" r="1.8"/><circle cx="695.9" cy="578.3" r="1.8"/><circle cx="735.8" cy="560" r="1.8"/><circle cx="740.5" cy="557.2" r="1.8"/><circle cx="741.4" cy="561.4" r="1.8"/><circle cx="751.2" cy="552.5" r="1.8"/><circle cx="754.1" cy="553" r="1.8"/><circle cx="768.6" cy="551.6" r="1.8"/><circle cx="618.1" cy="569.7" r="1.8"/><circle cx="617.2" cy="572.5" r="1.8"/><circle cx="615.8" cy="587.5" r="1.8"/><circle cx="615.8" cy="599.7" r="1.8"/><circle cx="617.7" cy="595.9" r="1.8"/><circle cx="623.3" cy="594.5" r="1.8"/><circle cx="653.3" cy="588.9" r="1.8"/><circle cx="658" cy="589.8" r="1.8"/><circle cx="660.3" cy="591.2" r="1.8"/><circle cx="663.1" cy="591.2" r="1.8"/><circle cx="665.5" cy="591.2" r="1.8"/><circle cx="661.2" cy="582.8" r="1.8"/><circle cx="664.1" cy="584.7" r="1.8"/><circle cx="669.7" cy="581.9" r="1.8"/><circle cx="679.1" cy="580" r="1.8"/><circle cx="681.4" cy="580.5" r="1.8"/><circle cx="692.2" cy="580.9" r="1.8"/><circle cx="662.7" cy="505.2" r="1.8"/><circle cx="673" cy="507" r="1.8"/><circle cx="668.7" cy="514.5" r="1.8"/><circle cx="671.1" cy="516.4" r="1.8"/><circle cx="657" cy="517.3" r="1.8"/><circle cx="657" cy="520.2" r="1.8"/><circle cx="673" cy="520.2" r="1.8"/><circle cx="669.2" cy="522" r="1.8"/><circle cx="667.3" cy="525.3" r="1.8"/><circle cx="660.8" cy="525.3" r="1.8"/><circle cx="650" cy="529.1" r="1.8"/><circle cx="625.6" cy="528.1" r="1.8"/><circle cx="622.8" cy="536.1" r="1.8"/><circle cx="626.6" cy="531.9" r="1.8"/><circle cx="878.7" cy="456.7" r="1.8"/><circle cx="876" cy="461.7" r="1.8"/><circle cx="896.6" cy="452.9" r="1.8"/><circle cx="901.9" cy="462.5" r="1.8"/><circle cx="937.3" cy="457" r="1.8"/><circle cx="918.6" cy="463.7" r="1.8"/><circle cx="923.8" cy="465" r="1.8"/><circle cx="926.4" cy="466.4" r="1.8"/><circle cx="926.8" cy="468.2" r="1.8"/><circle cx="927.5" cy="470.9" r="1.8"/><circle cx="908.4" cy="472.5" r="1.8"/><circle cx="917.6" cy="473.6" r="1.8"/><circle cx="886" cy="483.2" r="1.8"/><circle cx="895.9" cy="482" r="1.8"/><circle cx="889.8" cy="490" r="1.8"/><circle cx="888.9" cy="493.5" r="1.8"/><circle cx="874.5" cy="495.6" r="1.8"/><circle cx="867.6" cy="504.4" r="1.8"/><circle cx="880.5" cy="507.1" r="1.8"/><circle cx="898.4" cy="503.8" r="1.8"/><circle cx="914.6" cy="502" r="1.8"/><circle cx="930.4" cy="501.7" r="1.8"/><circle cx="939.4" cy="498" r="1.8"/><circle cx="949.4" cy="498.8" r="1.8"/><circle cx="954.9" cy="495.7" r="1.8"/><circle cx="958.4" cy="496.3" r="1.8"/><circle cx="930.2" cy="437.2" r="1.8"/><circle cx="914.8" cy="444.8" r="1.8"/><circle cx="941.6" cy="443.4" r="1.8"/></g>
<g font-family='"Liberation Serif", "Times New Roman", serif' font-size="25" fill="#262626"><text transform="translate(89.1 289.05) scale(0.96 1)" text-anchor="middle">0</text><text transform="translate(201.96 289.05) scale(0.96 1)" text-anchor="middle">1</text><text transform="translate(314.81 289.05) scale(0.96 1)" text-anchor="middle">2</text><text transform="translate(427.67 289.05) scale(0.96 1)" text-anchor="middle">3</text><text transform="translate(75.4 262.05) scale(0.96 1)" text-anchor="end">0</text><text transform="translate(75.4 182.1) scale(0.96 1)" text-anchor="end">0.1</text><text transform="translate(75.4 102.15) scale(0.96 1)" text-anchor="end">0.2</text><text transform="translate(75.4 22.2) scale(0.96 1)" text-anchor="end">0.3</text></g>
<g font-family='"Liberation Serif", "Times New Roman", serif' font-size="25" fill="#262626"><text transform="translate(608.95 289.05) scale(0.96 1)" text-anchor="middle">0</text><text transform="translate(740.62 289.05) scale(0.96 1)" text-anchor="middle">0.1</text><text transform="translate(872.28 289.05) scale(0.96 1)" text-anchor="middle">0.2</text><text transform="translate(1003.95 289.05) scale(0.96 1)" text-anchor="middle">0.3</text><text transform="translate(595.25 262.05) scale(0.96 1)" text-anchor="end">0</text><text transform="translate(595.25 166.11) scale(0.96 1)" text-anchor="end">0.1</text><text transform="translate(595.25 70.17) scale(0.96 1)" text-anchor="end">0.2</text></g>
<g font-family='"Liberation Serif", "Times New Roman", serif' font-size="25" fill="#262626"><text transform="translate(89.1 642.8) scale(0.96 1)" text-anchor="middle">0</text><text transform="translate(187.85 642.8) scale(0.96 1)" text-anchor="middle">0.05</text><text transform="translate(286.6 642.8) scale(0.96 1)" text-anchor="middle">0.1</text><text transform="translate(385.35 642.8) scale(0.96 1)" text-anchor="middle">0.15</text><text transform="translate(484.1 642.8) scale(0.96 1)" text-anchor="middle">0.2</text><text transform="translate(75.4 615.8) scale(0.96 1)" text-anchor="end">0</text><text transform="translate(75.4 535.9) scale(0.96 1)" text-anchor="end">0.05</text><text transform="translate(75.4 456) scale(0.96 1)" text-anchor="end">0.1</text><text transform="translate(75.4 376.1) scale(0.96 1)" text-anchor="end">0.15</text></g>
<g font-family='"Liberation Serif", "Times New Roman", serif' font-size="25" fill="#262626"><text transform="translate(608.95 642.8) scale(0.96 1)" text-anchor="middle">0</text><text transform="translate(740.62 642.8) scale(0.96 1)" text-anchor="middle">0.1</text><text transform="translate(872.28 642.8) scale(0.96 1)" text-anchor="middle">0.2</text><text transform="translate(1003.95 642.8) scale(0.96 1)" text-anchor="middle">0.3</text><text transform="translate(595.25 615.8) scale(0.96 1)" text-anchor="end">0</text><text transform="translate(595.25 495.95) scale(0.96 1)" text-anchor="end">0.1</text><text transform="translate(595.25 376.1) scale(0.96 1)" text-anchor="end">0.2</text></g>
<text x="439.0" y="45.5" font-family='"Liberation Serif", "Times New Roman", serif' font-size="25" fill="#000">(a)</text>
<text x="959.0" y="45.5" font-family='"Liberation Serif", "Times New Roman", serif' font-size="25" fill="#000">(b)</text>
<text x="439.0" y="399.5" font-family='"Liberation Serif", "Times New Roman", serif' font-size="25" fill="#000">(c)</text>
<text x="959.0" y="399.5" font-family='"Liberation Serif", "Times New Roman", serif' font-size="25" fill="#000">(d)</text>
<text transform="translate(35.6,133.9) rotate(-90)" text-anchor="middle" font-family='"Liberation Serif", "Times New Roman", serif' font-style="italic" font-size="25" fill="#262626">f</text>
<text transform="translate(555.45,133.9) rotate(-90)" text-anchor="middle" font-family='"Liberation Serif", "Times New Roman", serif' font-style="italic" font-size="25" fill="#262626">f</text>
<text transform="translate(23.400000000000002,487.4) rotate(-90)" text-anchor="middle" font-family='"Liberation Serif", "Times New Roman", serif' font-style="italic" font-size="25" fill="#262626">f</text>
<text x="255.00" y="317.70" font-family='"Liberation Serif", "Times New Roman", serif' font-size="26.5" fill="#262626">λ</text>
<text x="268.90" y="329.90" font-family='"Liberation Serif", "Times New Roman", serif' font-size="19" font-style="italic" fill="#262626">r</text>
<text x="282.50" y="317.70" font-family='"Liberation Serif", "Times New Roman", serif' font-size="25" fill="#262626">(m)</text>
<text transform="translate(775.00 317.70) scale(1.2 1)" font-family='"Liberation Serif", "Times New Roman", serif' font-size="25" font-style="italic" fill="#262626">η</text>
<text x="788.00" y="329.90" font-family='"Liberation Serif", "Times New Roman", serif' font-size="19" font-style="italic" fill="#262626">r</text>
<text x="801.50" y="317.70" font-family='"Liberation Serif", "Times New Roman", serif' font-size="25" fill="#262626">(m)</text>
<text transform="translate(775.00 671.70) scale(1.2 1)" font-family='"Liberation Serif", "Times New Roman", serif' font-size="25" font-style="italic" fill="#262626">η</text>
<text x="788.00" y="683.90" font-family='"Liberation Serif", "Times New Roman", serif' font-size="19" font-style="italic" fill="#262626">r</text>
<text x="801.50" y="671.70" font-family='"Liberation Serif", "Times New Roman", serif' font-size="25" fill="#262626">(m)</text>
<text transform="translate(262.00 671.70) scale(1.2 1)" font-family='"Liberation Serif", "Times New Roman", serif' font-size="25" font-style="italic" fill="#262626">η</text>
<text x="274.00" y="683.90" font-family='"Liberation Serif", "Times New Roman", serif' font-size="19" font-style="italic" fill="#262626">r</text>
<text x="281.30" y="671.70" font-family='"Liberation Serif", "Times New Roman", serif' font-size="25" fill="#262626">/</text>
<text x="289.30" y="671.70" font-family='"Liberation Serif", "Times New Roman", serif' font-size="26.5" fill="#262626">λ</text>
<text x="303.00" y="683.90" font-family='"Liberation Serif", "Times New Roman", serif' font-size="19" font-style="italic" fill="#262626">r</text>
<g transform="translate(544.0,510.5) rotate(-90)"><text transform="translate(-1.30 0.00) scale(1.2 1)" font-family='"Liberation Serif", "Times New Roman", serif' font-size="25" font-style="italic" fill="#262626">η</text><text x="12.00" y="12.20" font-family='"Liberation Serif", "Times New Roman", serif' font-size="19" font-style="italic" fill="#262626">r</text><text x="19.30" y="0.00" font-family='"Liberation Serif", "Times New Roman", serif' font-size="25" fill="#262626">/</text><text x="27.30" y="0.00" font-family='"Liberation Serif", "Times New Roman", serif' font-size="26.5" fill="#262626">λ</text><text x="41.00" y="12.20" font-family='"Liberation Serif", "Times New Roman", serif' font-size="19" font-style="italic" fill="#262626">r</text></g>
</svg>
</div>
</body></html>
